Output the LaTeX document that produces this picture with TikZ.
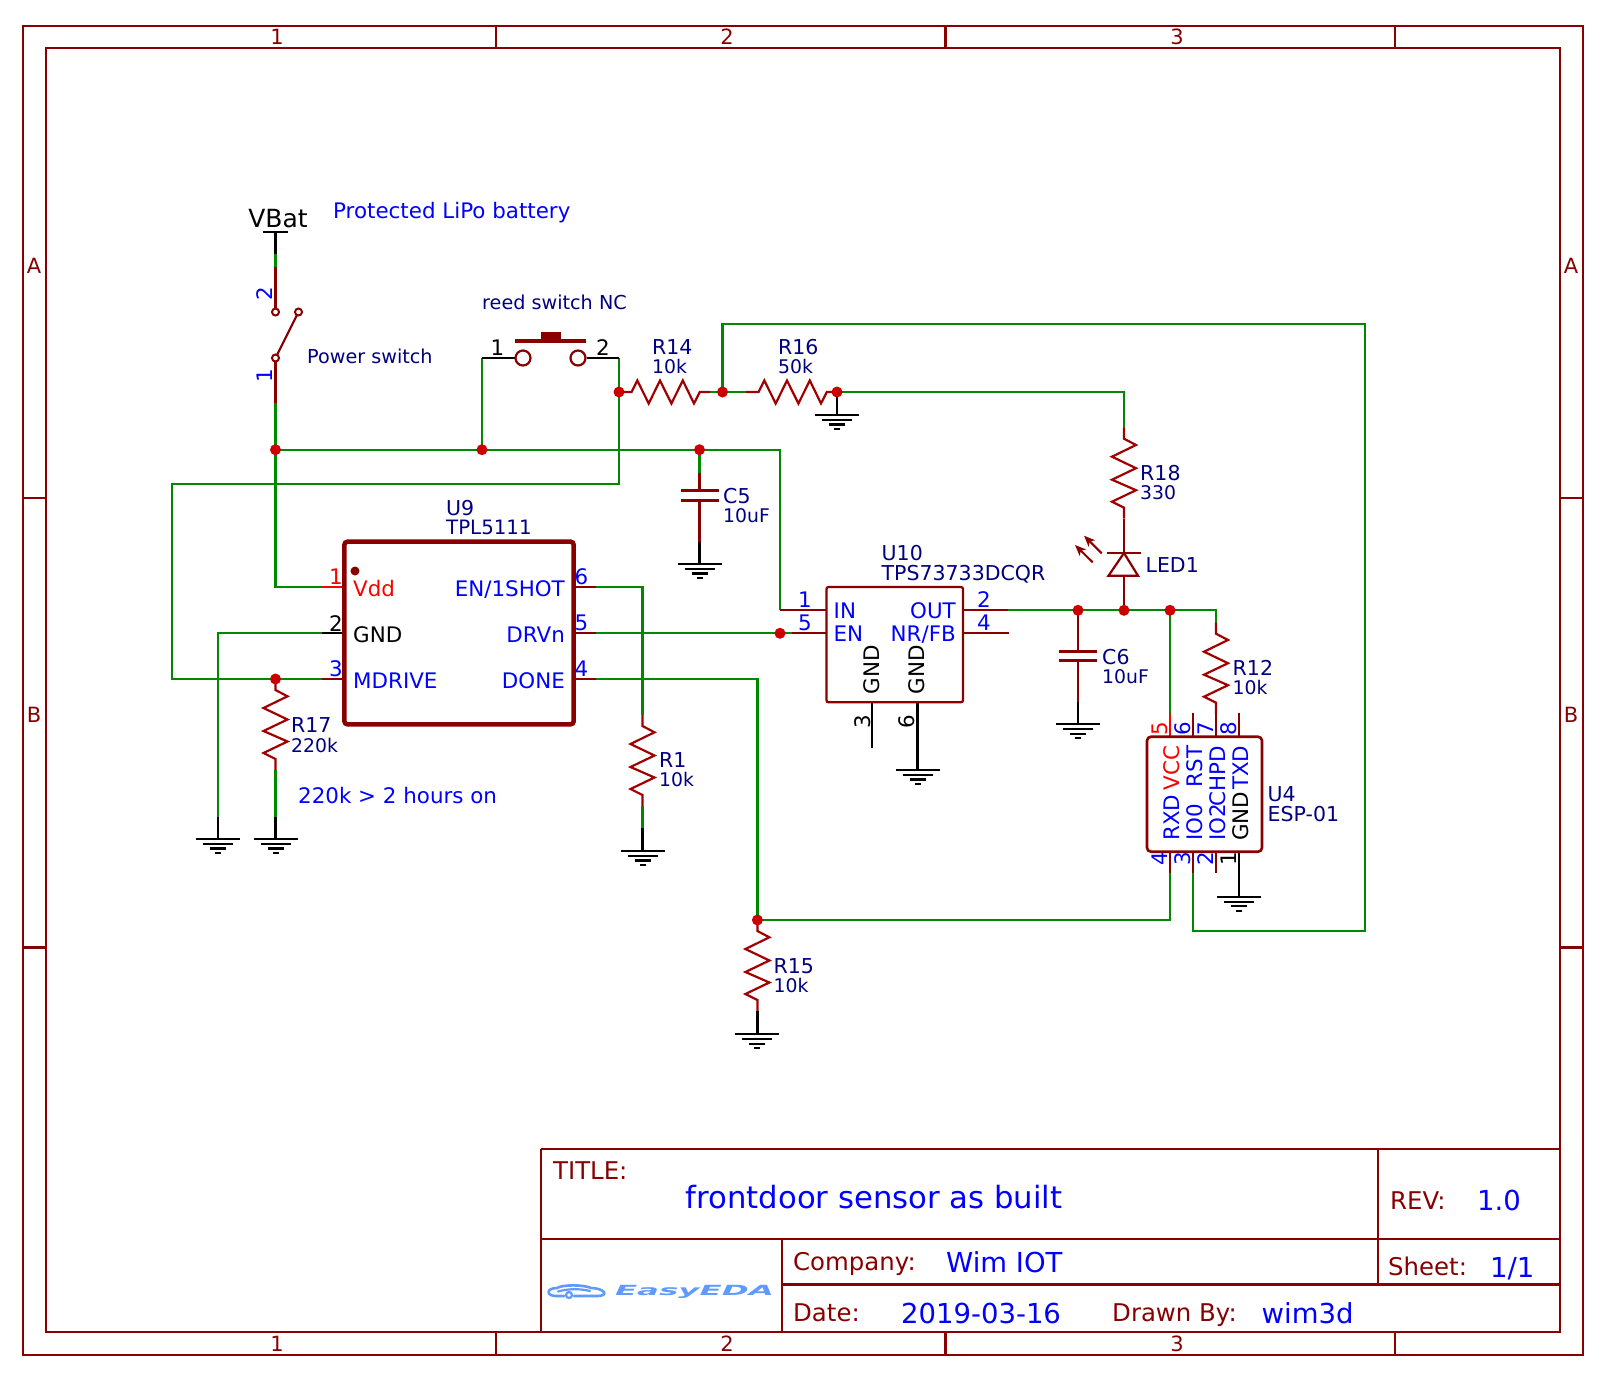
\documentclass[tikz,border=0pt]{standalone}
\usepackage{fontspec}
\usepackage{graphicx}
\usetikzlibrary{arrows.meta}
\setmainfont{DejaVu Sans}
\definecolor{wirec}{HTML}{008800}
\definecolor{pinc}{HTML}{880000}
\definecolor{resc}{HTML}{A00000}
\definecolor{navyc}{HTML}{000080}
\definecolor{bluec}{HTML}{0000FF}
\definecolor{redc}{HTML}{FF0000}
\definecolor{junc}{HTML}{CC0000}
\definecolor{logoc}{HTML}{5F9BFF}
\tikzset{
  sz/.code={\pgfmathsetmacro\tmpTH{0.73*#1}\tikzset{inner sep=0pt,font=\fontsize{#1}{#1}\selectfont,text height=\tmpTH pt,text depth=0pt}},
  wire/.style={draw=wirec,line width=2.2pt},
  pinl/.style={draw=pinc,line width=2.2pt},
  resl/.style={draw=resc,line width=2.2pt},
  blk/.style={draw=black,line width=2.2pt},
  redl/.style={draw=redc,line width=2.2pt},
  frameln/.style={draw=pinc,line width=2.2pt},
  ledarrow/.style={draw=pinc,fill=pinc,line width=2pt,-{Stealth[length=11pt,width=9pt,inset=3pt]}},
  dot/.style={circle,fill=junc,draw=none,minimum size=11pt,inner sep=0pt},
  nv/.style={sz=20.5,text=navyc},
  nvv/.style={sz=18.8,text=navyc},
  nvs/.style={sz=19.2,text=navyc},
  pn/.style={sz=21.4,text=bluec},
  pnr/.style={sz=21.4,text=redc},
  pnk/.style={sz=21.4,text=black},
  frt/.style={sz=21,text=pinc},
  tbl/.style={sz=24.4,text=pinc,anchor=west},
  tbv/.style={sz=27.5,text=bluec,anchor=west},
  hres/.pic={\draw[resl] (0,0)--(12.6,0)--(18.3,-11.5)--(29.7,11.5)--(41,-11.5)--(52.4,11.5)--(63.8,-11.5)--(75,11.5)--(80.8,0)--(91,0);},
  vres/.pic={\draw[resl] (0,0)--(0,11)--(12,17.3)--(-12,29)--(12,40.5)--(-12,52)--(12,62.5)--(-12,74)--(0,80)--(0,91);},
  gndsym/.pic={\draw[blk] (-22,0)--(22,0) (-15,5)--(15,5) (-8,9.5)--(8,9.5) (-3,14)--(3,14);},
  capv/.pic={\draw[pinc,line width=3pt] (-19,0)--(19,0) (-19,9.5)--(19,9.5);}
}
\begin{document}
\begin{tikzpicture}[x=1pt,y=-1pt]
\path[use as bounding box,fill=white] (0,0) rectangle (1606,1379);
% ---------- sheet frame
\draw[frameln] (23,25.6) rectangle (1583,1355.2);
\draw[frameln] (46,48) rectangle (1560,1332);
\draw[frameln] (496,25.6)--(496,48) (945.5,25.6)--(945.5,48) (1395,25.6)--(1395,48);
\draw[frameln] (496,1332)--(496,1355.2) (945.5,1332)--(945.5,1355.2) (1395,1332)--(1395,1355.2);
\draw[frameln] (23,498)--(46,498) (23,947.5)--(46,947.5) (1560,498)--(1583,498) (1560,947.5)--(1583,947.5);
\node[frt] (ft1) at (277,37) {1}; \node[frt] (ft2) at (727,37) {2}; \node[frt] (ft3) at (1177,37) {3};
\node[frt] (fb1) at (277,1344) {1}; \node[frt] (fb2) at (727,1344) {2}; \node[frt] (fb3) at (1177,1344) {3};
\node[frt] (flA) at (34,265.5) {A}; \node[frt] (flB) at (34,715) {B};
\node[frt] (frA) at (1571,265.5) {A}; \node[frt] (frB) at (1571,715) {B};
% ---------- title block
\draw[frameln] (541,1149)--(1560,1149) (541,1149)--(541,1332);
\draw[frameln] (541,1239)--(1560,1239) (782,1284.5)--(1560,1284.5);
\draw[frameln] (782,1239)--(782,1332) (1378,1149)--(1378,1284.5);
\node[tbl] (ttl) at (553,1170.5) {TITLE:};
\node[sz=30.7,text=bluec,anchor=west] (ttv) at (685.5,1197) {frontdoor sensor as built};
\node[tbl] (rev) at (1390,1201) {REV:};
\node[tbv] (revv) at (1477,1200) {1.0};
\node[tbl] (cmp) at (793,1262) {Company:};
\node[tbv] (cmpv) at (946,1262) {Wim IOT};
\node[tbl] (sht) at (1388,1267) {Sheet:};
\node[tbv] (shtv) at (1490,1267) {1/1};
\node[tbl] (dat) at (793,1313) {Date:};
\node[tbv] (datv) at (901,1313) {2019-03-16};
\node[tbl] (drw) at (1112,1313) {Drawn By:};
\node[tbv] (drwv) at (1261.5,1313) {wim3d};
% EasyEDA logo
\draw[logoc,line width=2.6pt,line cap=round] (564,1296) -- (556,1296) .. controls (546,1296) and (546,1288) .. (557,1288)
  .. controls (562,1284.5) and (584,1284.5) .. (591,1288) .. controls (604,1288) and (610,1296) .. (597,1296) -- (574,1296);
\draw[logoc,line width=2.2pt,line cap=round] (558,1291.5) .. controls (570,1288) and (582,1289) .. (590,1291);
\draw[logoc,line width=2.2pt] (569,1295) circle (3);
\node[inner sep=0pt,text=logoc,font=\fontsize{14}{14}\selectfont\bfseries\itshape] (logo) at (694.5,1291.5) {\scalebox{2.32}[1]{EasyEDA}};
% ---------- named points
\coordinate (vb) at (275.5,231.7);
\coordinate (swb) at (275.5,402.7);
\coordinate (jA) at (275.5,449.7);
\coordinate (jB) at (482,449.7);
\coordinate (jC) at (699.5,449.7);
\coordinate (inC) at (780,449.7);
\coordinate (inP) at (780,610);
\coordinate (reedL) at (482,358);
\coordinate (reedR) at (619,358);
\coordinate (jD) at (619,392);
\coordinate (jE) at (722.5,392);
\coordinate (jF) at (837,392);
\coordinate (r18t) at (1124,427.7);
\coordinate (jG) at (1078,610.3);
\coordinate (jH) at (1124,610.3);
\coordinate (jI) at (1170,610.3);
\coordinate (outP) at (1008,610.3);
\coordinate (r12t) at (1216,622.7);
\coordinate (u9p1) at (322,587.3);
\coordinate (u9p2) at (322,633.3);
\coordinate (u9p3) at (322,679);
\coordinate (u9p6) at (595.7,587.3);
\coordinate (u9p5) at (595.7,633.3);
\coordinate (u9p4) at (595.7,679);
\coordinate (jJ) at (275.5,679);
\coordinate (jK) at (780,633.3);
\coordinate (enP) at (792,633.3);
\coordinate (jL) at (757.4,920);
\coordinate (u4p4) at (1170,872.7);
\coordinate (u4p3) at (1193,872.7);
\coordinate (u4p5) at (1170,714);
\coordinate (g2) at (217.6,817);
\coordinate (r17b) at (275.5,770);
\coordinate (g17) at (275.5,817);
\coordinate (r1t) at (642.5,715);
\coordinate (r1b) at (642.5,806);
\coordinate (g1) at (642.5,828.3);
% ---------- wires
\draw[wire] (vb |- 0,254)--(vb |- 0,267);
\draw[wire] (swb)--(jA)--(jB)--(jC)--(inC)--(inP);
\draw[wire] (jB)--(reedL);
\draw[wire] (reedR)--(jD)--(619,484)--(172,484)--(172,679)--(u9p3);
\draw[wire] (jA)--(275.5,587.3)--(u9p1);
\draw[wire] (u9p2)-|(g2);
\draw[wire] (r17b)--(g17);
\draw[wire] (u9p6)-|(r1t);
\draw[wire] (r1b)--(g1);
\draw[wire] (u9p5)--(enP);
\draw[wire] (u9p4)-|(jL)-|(u4p4);
\draw[wire] (jE)--(722.5,323.7)--(1365,323.7)--(1365,931)--(1193,931)--(u4p3);
\draw[wire] (jD)--(631,392) (710,392)--(746,392) (jF)-|(r18t);
\draw[wire] (outP)--(jG)--(jH)--(jI)-|(r12t);
\draw[wire] (jI)--(u4p5);
\draw[wire] (jC)--(699.5,472.7);
% ---------- VBat and power switch
\draw[blk] (vb)--(275.5,254);
\draw[blk] (263,231.7)--(288,231.7);
\draw[pinl] (275.5,267)--(275.5,308.5);
\draw[pinl] (275.5,361.5)--(swb);
\draw[pinl,line width=2pt] (275.5,312) circle (3.5) (298.5,312) circle (3.5) (275.5,358) circle (3.5);
\draw[pinl] (277,355)--(297,315);
\node[sz=25,text=black] (vbt) at (278,218) {VBat};
\node[pn,anchor=west] (plb) at (333,211) {Protected LiPo battery};
\node[nvs,anchor=west] (psw) at (307,356) {Power switch};
\node[pn,rotate=90] (sw2) at (265,294) {2};
\node[pn,rotate=90] (sw1) at (265,376) {1};
% ---------- reed switch
\draw[blk] (reedL)--(514.5,358);
\draw[blk] (587,358)--(reedR);
\draw[pinl] (523,358) circle (7.5) (578,358) circle (7.5);
\draw[pinc,line width=4.5pt] (515,341)--(586,341);
\fill[pinc] (541,332) rectangle (561,341);
\node[nvs] (reed) at (554.5,302) {reed switch NC};
\node[pnk] (re1) at (497.5,347.5) {1};
\node[pnk] (re2) at (603,347.5) {2};
% ---------- resistors
\path (619,392) pic {hres};
\path (746,392) pic {hres};
\path (r18t) pic {vres};
\path (r12t) pic {vres};
\path (jJ) pic {vres};
\path (r1t) pic {vres};
\path (jL) pic {vres};
\draw[pinl] (1216,713)--(1216,736.7);
\node[nv,anchor=west] (r14a) at (652,347) {R14};
\node[nvv,anchor=west] (r14b) at (652,367) {10k};
\node[nv,anchor=west] (r16a) at (778,347) {R16};
\node[nvv,anchor=west] (r16b) at (778,367) {50k};
\node[nv,anchor=west] (r18a) at (1140,473) {R18};
\node[nvv,anchor=west] (r18b) at (1140,493) {330};
\node[nv,anchor=west] (r12a) at (1232.5,668) {R12};
\node[nvv,anchor=west] (r12b) at (1232.5,688) {10k};
\node[nv,anchor=west] (r17a) at (291,725.5) {R17};
\node[nvv,anchor=west] (r17c) at (291,746) {220k};
\node[nv,anchor=west] (r1a) at (659,760) {R1};
\node[nvv,anchor=west] (r1c) at (659,780) {10k};
\node[nv,anchor=west] (r15a) at (773.5,966) {R15};
\node[nvv,anchor=west] (r15b) at (773.5,986) {10k};
\node[pn,anchor=west] (note) at (298,796) {220k > 2 hours on};
% ---------- capacitors
\draw[pinl] (699.5,472.7)--(699.5,490.7) (699.5,500)--(699.5,541.7);
\draw[blk] (699.5,541.7)--(699.5,564);
\path (699.5,490.7) pic {capv};
\path (699.5,564) pic {gndsym};
\node[nv,anchor=west] (c5a) at (723,496) {C5};
\node[nvv,anchor=west] (c5b) at (723,516) {10uF};
\draw[pinl] (jG)--(1078,651) (1078,660.5)--(1078,701.7);
\draw[blk] (1078,701.7)--(1078,724.3);
\path (1078,651) pic {capv};
\path (1078,724.3) pic {gndsym};
\node[nv,anchor=west] (c6a) at (1102,656.7) {C6};
\node[nvv,anchor=west] (c6b) at (1102,676.7) {10uF};
% ---------- grounds
\draw[blk] (jF)--(837,415);
\path (837,415) pic {gndsym};
\draw[blk] (g2)--(217.6,839);
\path (217.6,839) pic {gndsym};
\draw[blk] (g17)--(275.5,839);
\path (275.5,839) pic {gndsym};
\draw[blk] (g1)--(642.5,851);
\path (642.5,851) pic {gndsym};
\draw[blk] (757.4,1011)--(757.4,1034.3);
\path (757.4,1034.3) pic {gndsym};
\draw[blk] (872,702.3)--(872,747.7);
\draw[blk] (917.5,702.3)--(917.5,770);
\path (917.5,770) pic {gndsym};
\draw[blk] (1239,851.7)--(1239,896.7);
\path (1239,896.7) pic {gndsym};
% ---------- LED
\draw[pinl] (1124,518.7)--(1124,553);
\draw[pinl] (1107,553)--(1141,553);
\draw[pinl] (1124,553)--(1138,575.7)--(1108.5,575.7)--cycle;
\draw[pinl] (1124,575.7)--(jH);
\draw[ledarrow] (1101.7,553.3)--(1084,535.7);
\draw[ledarrow] (1092.7,562.3)--(1075,545);
\node[nv,anchor=west] (led) at (1145.4,565) {LED1};
% ---------- U9
\draw[redl] (u9p1)--(344,587.3);
\draw[blk] (u9p2)--(344,633.3);
\draw[pinl] (u9p3)--(344,679);
\draw[pinl] (573.7,587.3)--(u9p6) (573.7,633.3)--(u9p5) (573.7,679)--(u9p4);
\draw[pinc,line width=4.5pt,rounded corners=3pt] (344.4,541.7) rectangle (573.7,724.3);
\fill[pinc] (355,571) circle (4.5);
\node[nv,anchor=west] (u9a) at (446,508) {U9};
\node[sz=19.8,text=navyc,anchor=west] (u9b) at (446,527) {TPL5111};
\node[pnr] (u91) at (336,577) {1};
\node[pnk] (u92) at (336,624) {2};
\node[pn] (u93) at (336,669) {3};
\node[pn] (u96) at (581.5,577) {6};
\node[pn] (u95) at (581.5,623) {5};
\node[pn] (u94) at (581.5,669) {4};
\node[pnr,anchor=west] (u9t1) at (353,589) {Vdd};
\node[pnk,anchor=west] (u9t2) at (353,635) {GND};
\node[pn,anchor=west] (u9t3) at (353,681) {MDRIVE};
\node[pn,anchor=east] (u9t6) at (565,589) {EN/1SHOT};
\node[pn,anchor=east] (u9t5) at (565,635) {DRVn};
\node[pn,anchor=east] (u9t4) at (565,681) {DONE};
% ---------- U10
\draw[pinl] (inP)--(826.5,610) (enP)--(826.5,633.3);
\draw[pinl] (963,610.3)--(outP) (963,633.3)--(1009,633.3);
\draw[pinl,rounded corners=2pt] (826.5,587) rectangle (963,702.3);
\node[nv,anchor=west] (u10a) at (881.5,553) {U10};
\node[nv,anchor=west] (u10b) at (881.5,573) {TPS73733DCQR};
\node[pn] (u101) at (805,600) {1};
\node[pn] (u105) at (805,623) {5};
\node[pn] (u102) at (984,600) {2};
\node[pn] (u104) at (984,623) {4};
\node[pn,anchor=west] (u10t1) at (833.5,610.5) {IN};
\node[pn,anchor=west] (u10t5) at (833.5,633.5) {EN};
\node[pn,anchor=east] (u10t2) at (956,610.5) {OUT};
\node[pn,anchor=east] (u10t4) at (956,633.5) {NR/FB};
\node[pnk,rotate=90] (u10g1) at (871.5,670) {GND};
\node[pnk,rotate=90] (u10g2) at (917,670) {GND};
\node[pnk,rotate=90] (u103) at (862.5,722) {3};
\node[pnk,rotate=90] (u106) at (907,722) {6};
% ---------- U4
\draw[redl] (u4p5)--(1170,736.7);
\draw[pinl] (1193,713)--(1193,736.7) (1239,713)--(1239,736.7);
\draw[pinl] (1170,851.7)--(u4p4) (1193,851.7)--(u4p3) (1216,851.7)--(1216,872.7);
\draw[pinl,line width=2.6pt,rounded corners=4pt] (1147,736.7) rectangle (1262,851.7);
\node[pnr,rotate=90] (u4n5) at (1160,729) {5};
\node[pn,rotate=90] (u4n6) at (1183,729) {6};
\node[pn,rotate=90] (u4n7) at (1206,729) {7};
\node[pn,rotate=90] (u4n8) at (1229,729) {8};
\node[pn,rotate=90] (u4n4) at (1160,859) {4};
\node[pn,rotate=90] (u4n3) at (1183,859) {3};
\node[pn,rotate=90] (u4n2) at (1206,859) {2};
\node[pnk,rotate=90] (u4n1) at (1229,859) {1};
\node[pnr,rotate=90,anchor=east] (u4t5) at (1172,745.5) {VCC};
\node[pn,rotate=90,anchor=east] (u4t6) at (1195,745.5) {RST};
\node[pn,rotate=90,anchor=east] (u4t7) at (1218,745.5) {CHPD};
\node[pn,rotate=90,anchor=east] (u4t8) at (1241,745.5) {TXD};
\node[pn,rotate=90,anchor=west] (u4t4) at (1172,841) {RXD};
\node[pn,rotate=90,anchor=west] (u4t3) at (1195,841) {IO0};
\node[pn,rotate=90,anchor=west] (u4t2) at (1218,841) {IO2};
\node[pnk,rotate=90,anchor=west] (u4t1) at (1241,841) {GND};
\node[nv,anchor=west] (u4a) at (1267.5,794) {U4};
\node[nv,anchor=west] (u4b) at (1267.5,814) {ESP-01};
% ---------- junctions
\foreach \p/\n in {jA/a,jB/b,jC/c,jD/d,jE/e,jF/f,jG/g,jH/h,jI/i,jJ/j,jK/k,jL/l}
  \node[dot] (dot\n) at (\p) {};
\end{tikzpicture}
\end{document}
